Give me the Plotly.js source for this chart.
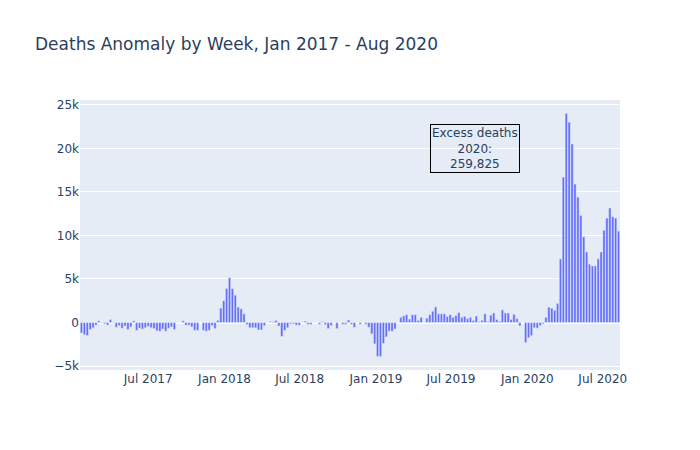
<!DOCTYPE html>
<html>
<head>
<meta charset="utf-8">
<script src="https://cdn.plot.ly/plotly-3.0.1.min.js"></script>
<style>
  html, body { margin: 0; padding: 0; background: #fff; }
  #chart { width: 700px; height: 450px; }
</style>
</head>
<body>
<div id="chart"></div>
<script>
// Week-ending dates (Saturdays)
const weeks2017 = ['2017-01-21','2017-01-28','2017-02-04','2017-02-11','2017-02-18','2017-02-25',
  '2017-03-04','2017-03-11','2017-03-18','2017-03-25','2017-04-01','2017-04-08','2017-04-15',
  '2017-04-22','2017-04-29','2017-05-06','2017-05-13','2017-05-20','2017-05-27','2017-06-03',
  '2017-06-10','2017-06-17','2017-06-24','2017-07-01','2017-07-08','2017-07-15','2017-07-22',
  '2017-07-29','2017-08-05','2017-08-12','2017-08-19','2017-08-26','2017-09-02','2017-09-09',
  '2017-09-16','2017-09-23','2017-09-30','2017-10-07','2017-10-14','2017-10-21','2017-10-28',
  '2017-11-04','2017-11-11','2017-11-18','2017-11-25','2017-12-02','2017-12-09','2017-12-16',
  '2017-12-23','2017-12-30'];
const weeks2018 = ['2018-01-06','2018-01-13','2018-01-20','2018-01-27','2018-02-03','2018-02-10',
  '2018-02-17','2018-02-24','2018-03-03','2018-03-10','2018-03-17','2018-03-24','2018-03-31',
  '2018-04-07','2018-04-14','2018-04-21','2018-04-28','2018-05-05','2018-05-12','2018-05-19',
  '2018-05-26','2018-06-02','2018-06-09','2018-06-16','2018-06-23','2018-06-30','2018-07-07',
  '2018-07-14','2018-07-21','2018-07-28','2018-08-04','2018-08-11','2018-08-18','2018-08-25',
  '2018-09-01','2018-09-08','2018-09-15','2018-09-22','2018-09-29','2018-10-06','2018-10-13',
  '2018-10-20','2018-10-27','2018-11-03','2018-11-10','2018-11-17','2018-11-24','2018-12-01',
  '2018-12-08','2018-12-15','2018-12-22','2018-12-29'];
const weeks2019 = ['2019-01-05','2019-01-12','2019-01-19','2019-01-26','2019-02-02','2019-02-09',
  '2019-02-16','2019-02-23','2019-03-02','2019-03-09','2019-03-16','2019-03-23','2019-03-30',
  '2019-04-06','2019-04-13','2019-04-20','2019-04-27','2019-05-04','2019-05-11','2019-05-18',
  '2019-05-25','2019-06-01','2019-06-08','2019-06-15','2019-06-22','2019-06-29','2019-07-06',
  '2019-07-13','2019-07-20','2019-07-27','2019-08-03','2019-08-10','2019-08-17','2019-08-24',
  '2019-08-31','2019-09-07','2019-09-14','2019-09-21','2019-09-28','2019-10-05','2019-10-12',
  '2019-10-19','2019-10-26','2019-11-02','2019-11-09','2019-11-16','2019-11-23','2019-11-30',
  '2019-12-07','2019-12-14','2019-12-21','2019-12-28'];
const weeks2020 = ['2020-01-04','2020-01-11','2020-01-18','2020-01-25','2020-02-01','2020-02-08',
  '2020-02-15','2020-02-22','2020-02-29','2020-03-07','2020-03-14','2020-03-21','2020-03-28',
  '2020-04-04','2020-04-11','2020-04-18','2020-04-25','2020-05-02','2020-05-09','2020-05-16',
  '2020-05-23','2020-05-30','2020-06-06','2020-06-13','2020-06-20','2020-06-27','2020-07-04',
  '2020-07-11','2020-07-18','2020-07-25','2020-08-01','2020-08-08'];

// Weekly deaths above (+) or below (-) the expected baseline
const anomaly2017 = [-1200, -1400, -1500, -800, -600, -300, 200, 50, -150, -300,
  350, -50, -550, -350, -650, -400, -800, -500, 200, -900,
  -650, -750, -600, -450, -600, -700, -950, -1000, -750, -1000,
  -650, -500, -800, 0, 0, 200, -300, -300, -500, -900,
  -900, 0, -900, -1000, -900, -350, -700, 250, 1650, 2500];
const anomaly2018 = [3900, 5150, 3900, 3150, 1770, 1570, 1000, -230, -600, -600,
  -600, -850, -850, -350, 0, 100, 100, 250, -400, -1600,
  -900, -600, -150, -150, -300, -300, 0, 150, -200, -200,
  0, 0, -200, 100, -250, -700, -350, 0, -700, 0,
  -200, -200, 300, -200, -550, 0, -200, 0, -200, -550,
  -1300, -2450];
const anomaly2019 = [-3900, -3900, -2400, -1650, -1000, -1000, -750, 0, 600, 770,
  900, 400, 900, 900, 250, 600, 0, 500, 900, 1300,
  1800, 1000, 1000, 1000, 700, 900, 600, 800, 1150, 600,
  700, 450, 600, 250, 750, 100, 250, 1000, 120, 850,
  1100, 350, 150, 1450, 1100, 1100, 350, 950, 450, -400,
  0, -2300];
const anomaly2020 = [-1750, -1500, -600, -650, -350, -150, 600, 1770, 1650, 1400,
  2200, 7300, 16700, 24000, 23000, 20500, 15900, 14400, 12300, 9850,
  8100, 6700, 6500, 6500, 7300, 8100, 10600, 12000, 13150, 12150,
  12000, 10500];

const excessLabel = 'Excess deaths<br>2020:<br>259,825';

const weeks = [].concat(weeks2017, weeks2018, weeks2019, weeks2020);
const anomaly = [].concat(anomaly2017, anomaly2018, anomaly2019, anomaly2020);

const trace = {
  type: 'bar',
  x: weeks,
  y: anomaly,
  marker: { color: '#636efa', line: { color: '#E5ECF6', width: 0.5 } },
  hoverinfo: 'x+y'
};

const layout = {
  width: 700,
  height: 450,
  margin: { l: 80, r: 80, t: 100, b: 80 },
  paper_bgcolor: '#ffffff',
  plot_bgcolor: '#E5ECF6',
  font: { family: 'Verdana, "DejaVu Sans", sans-serif', size: 12, color: '#2a3f5f' },
  title: {
    text: 'Deaths Anomaly by Week, Jan 2017 - Aug 2020',
    x: 0.05,
    xanchor: 'left',
    font: { size: 17, color: '#2a3f5f' }
  },
  bargap: 0.2,
  showlegend: false,
  xaxis: {
    type: 'date',
    showgrid: false,
    zeroline: false,
    ticks: '',
    showline: false
  },
  yaxis: {
    gridcolor: '#ffffff',
    zeroline: true,
    zerolinecolor: '#ffffff',
    zerolinewidth: 2,
    ticks: '',
    showline: false
  },
  annotations: [{
    x: '2019-08-29',
    y: 20000,
    xref: 'x',
    yref: 'y',
    text: excessLabel,
    showarrow: false,
    bordercolor: '#000000',
    borderwidth: 1,
    font: { size: 12, color: '#2a3f5f' }
  }]
};

Plotly.newPlot('chart', [trace], layout, { displayModeBar: false, staticPlot: true });
</script>
</body>
</html>
